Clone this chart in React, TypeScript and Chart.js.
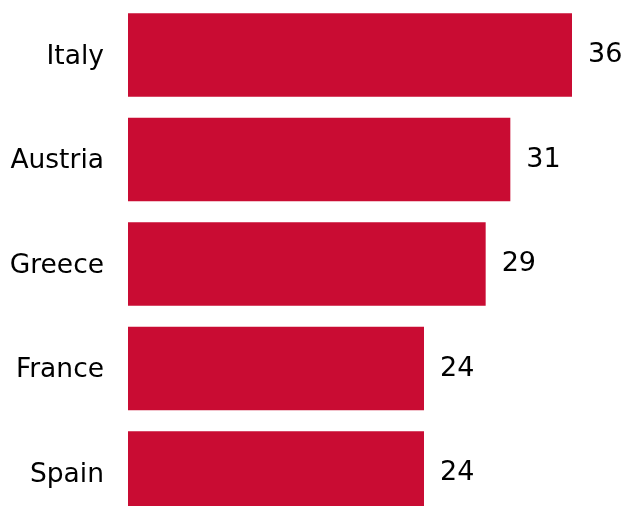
import React, { useEffect, useRef } from "react";
import { Chart, registerables } from "chart.js";

Chart.register(...registerables);

const countries = ["Italy", "Austria", "Greece", "France", "Spain"];
const values = [36, 31, 29, 24, 24];
const barColor = "#C90C33";
const fontFamily = "'DejaVu Sans', sans-serif";
const valueFontSize = 27;
const tickFontSize = 26.5;

const valueLabels = {
  id: "valueLabels",
  afterDatasetsDraw(chart: any) {
    const ctx = chart.ctx;
    const meta = chart.getDatasetMeta(0);
    ctx.save();
    ctx.font = `${valueFontSize}px ${fontFamily}`;
    ctx.fillStyle = "#000";
    ctx.textAlign = "left";
    ctx.textBaseline = "middle";
    meta.data.forEach((bar: any, i: number) => {
      ctx.fillText(String(values[i]), bar.x + 16, bar.y);
    });
    ctx.restore();
  },
};

export default function App() {
  const ref = useRef<HTMLCanvasElement>(null);
  useEffect(() => {
    if (!ref.current) return;
    const chart = new Chart(ref.current, {
      type: "bar",
      data: {
        labels: countries,
        datasets: [
          {
            data: values,
            backgroundColor: barColor,
            barPercentage: 0.8,
            categoryPercentage: 1,
          },
        ],
      },
      options: {
        indexAxis: "y",
        responsive: false,
        animation: false,
        layout: { padding: { top: 2.75, bottom: 2.75, left: 0, right: 51 } },
        plugins: { legend: { display: false }, tooltip: { enabled: false } },
        scales: {
          x: { display: false, min: 0, max: 36 },
          y: {
            grid: { display: false, drawTicks: false },
            border: { display: false },
            ticks: {
              padding: 24,
              labelOffset: 2,
              color: "#000",
              font: { family: fontFamily, size: tickFontSize },
            },
            afterFit: (scale: any) => {
              scale.width = 128;
              scale.paddingTop = 0;
              scale.paddingBottom = 0;
            },
          },
        },
      },
      plugins: [valueLabels],
    });
    return () => chart.destroy();
  }, []);
  return (
    <div style={{ position: "absolute", left: 0, top: 0, width: 623, height: 528 }}>
      <canvas ref={ref} width={623} height={528} style={{ display: "block" }} />
    </div>
  );
}
